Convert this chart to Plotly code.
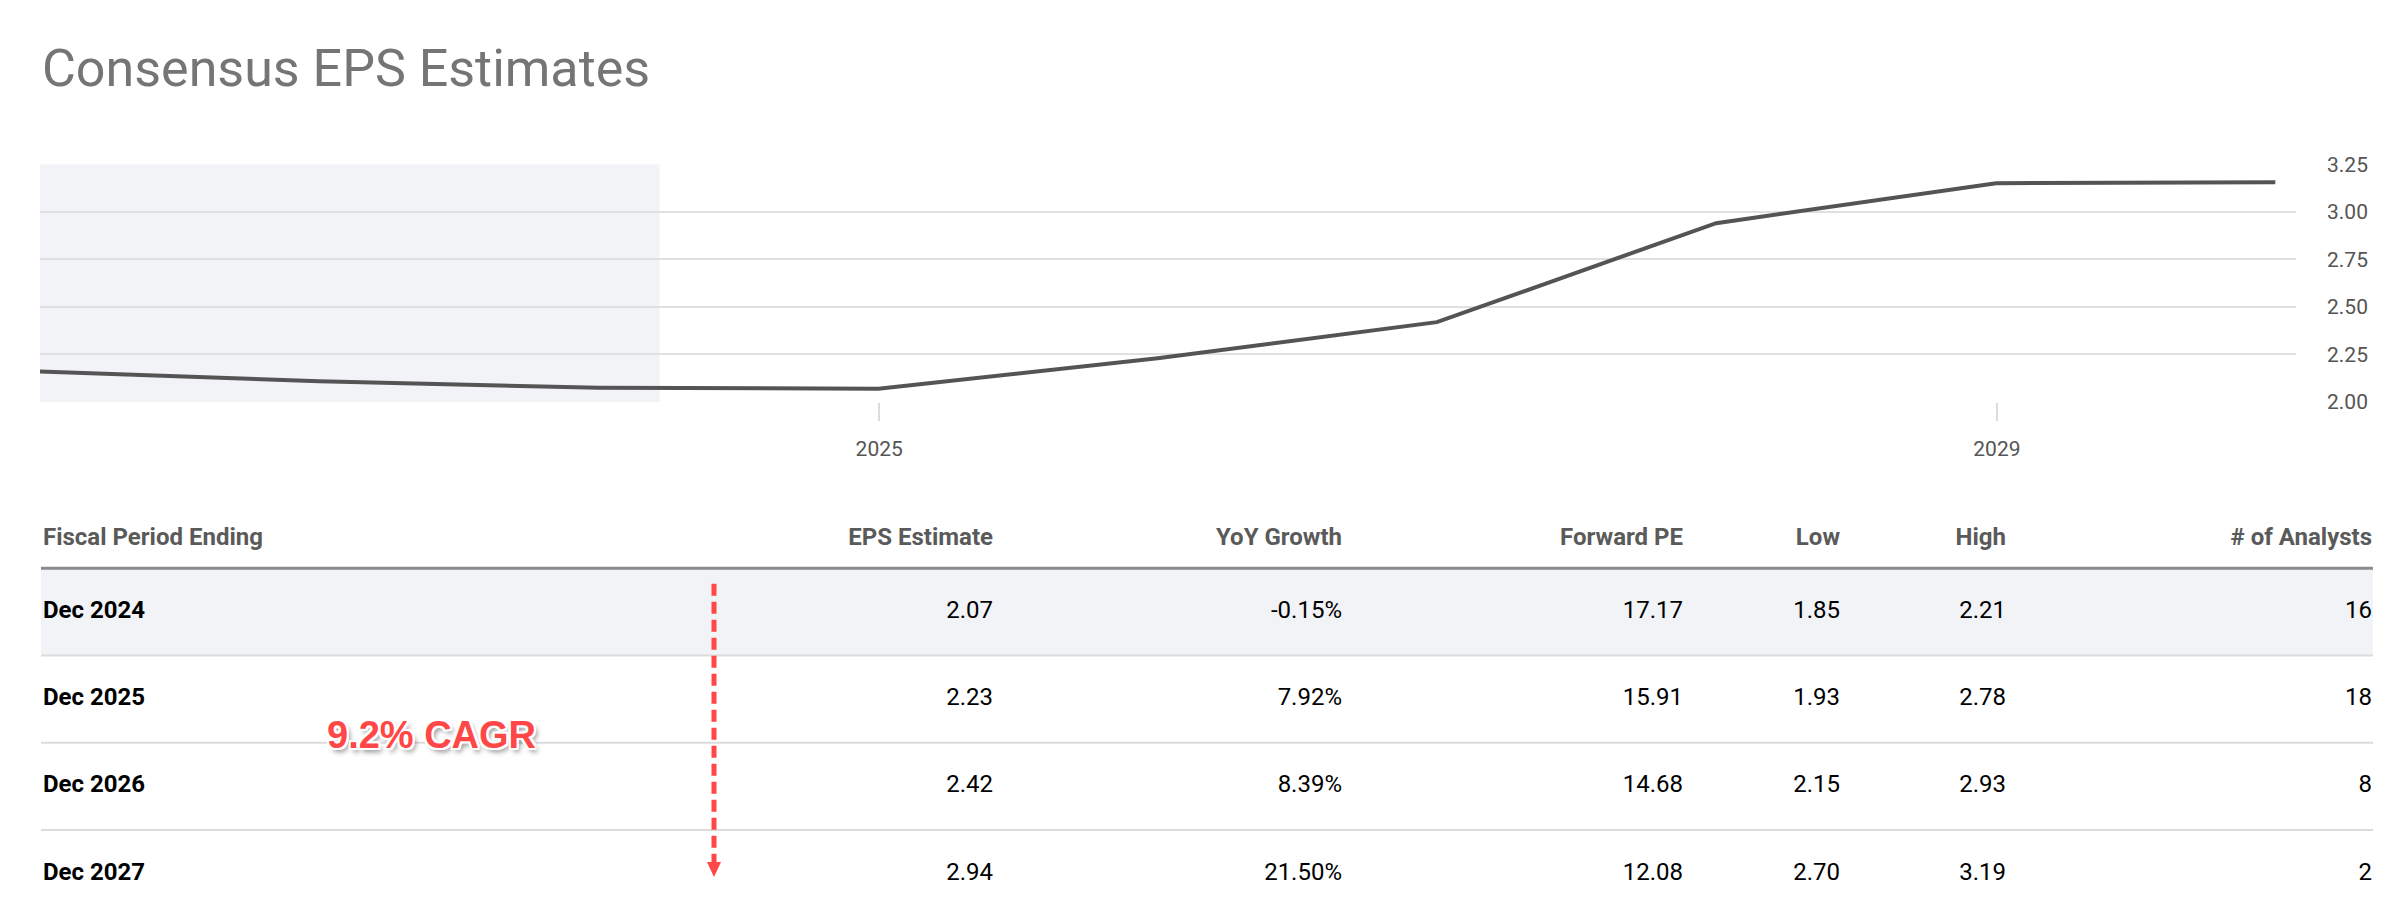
import plotly.graph_objects as go

# ---------------- data ----------------
line_dates = ["2021-12-31", "2022-12-31", "2023-12-31", "2024-12-31", "2025-12-31",
              "2026-12-31", "2027-12-31", "2028-12-31", "2029-12-31"]
line_eps = [2.16, 2.11, 2.075, 2.07, 2.23, 2.42, 2.94, 3.15, 3.155]
x_tick_vals = ["2025-01-01", "2029-01-01"]
x_tick_text = ["2025", "2029"]
y_tick_vals = [2.00, 2.25, 2.50, 2.75, 3.00, 3.25]
past_end = "2024-03-20"

headers = ["Fiscal Period Ending", "EPS Estimate", "YoY Growth", "Forward PE", "Low", "High", "# of Analysts"]
periods = ["Dec 2024", "Dec 2025", "Dec 2026", "Dec 2027"]
eps_est = ["2.07", "2.23", "2.42", "2.94"]
yoy = ["-0.15%", "7.92%", "8.39%", "21.50%"]
fwd_pe = ["17.17", "15.91", "14.68", "12.08"]
low = ["1.85", "1.93", "2.15", "2.70"]
high = ["2.21", "2.78", "2.93", "3.19"]
analysts = ["16", "18", "8", "2"]
cagr_text = "9.2% CAGR"

# ---------------- layout constants ----------------
W, H = 2398, 913
# the photographed picture shows the figure slightly inset vertically;
# target positions (in picture px) are mapped back to figure px
SHIFT_Y, SCALE_Y = 10.0, 0.976

def px_x(p):
    return p / W
def px_y(p):
    return 1 - ((p - SHIFT_Y) / SCALE_Y) / H

ROW_C0 = 611.25   # picture px centre of first body row
ROW_H = 87.5      # picture px row height
def row_of(p):
    return (p - ROW_C0) / ROW_H

T_TOP = 494
T_BOT = SHIFT_Y + SCALE_Y * H
col_x = [43, 993, 1342, 1683, 1840, 2006, 2372]
tbl_left, tbl_right = 41, 2373

fig = go.Figure()

fig.add_trace(go.Scatter(
    x=line_dates, y=line_eps, mode="lines",
    line=dict(color="#545454", width=4), hoverinfo="skip",
    xaxis="x", yaxis="y", showlegend=False))

cols = [periods, eps_est, yoy, fwd_pe, low, high, analysts]
rows_idx = list(range(len(periods)))
for ci, vals in enumerate(cols):
    first = ci == 0
    fig.add_trace(go.Scatter(
        x=[col_x[ci]] * len(vals), y=rows_idx, text=vals, mode="text",
        textposition="middle right" if first else "middle left",
        textfont=dict(family="Roboto", size=24, color="#000000",
                      weight=700 if first else 400),
        hoverinfo="skip", showlegend=False, cliponaxis=False,
        xaxis="x2", yaxis="y2"))
    fig.add_trace(go.Scatter(
        x=[col_x[ci]], y=[row_of(538)], text=[headers[ci]], mode="text",
        textposition="middle right" if first else "middle left",
        textfont=dict(family="Roboto", size=24, color="#5a5a5a", weight=700),
        hoverinfo="skip", showlegend=False, cliponaxis=False,
        xaxis="x2", yaxis="y2"))

shapes = []
shapes.append(dict(type="rect", xref="x", yref="y", x0=line_dates[0], x1=past_end,
                   y0=y_tick_vals[0], y1=y_tick_vals[-1], fillcolor="#f2f3f6",
                   line=dict(width=0), layer="below"))
shapes.append(dict(type="rect", xref="x2", yref="y2", x0=tbl_left, x1=tbl_right,
                   y0=-0.5, y1=0.5, fillcolor="#f2f3f6", line=dict(width=0), layer="below"))
for k in range(len(periods) - 1):
    shapes.append(dict(type="line", xref="x2", yref="y2", x0=tbl_left, x1=tbl_right,
                       y0=k + 0.5, y1=k + 0.5, line=dict(color="#dcdcdc", width=2), layer="below"))
shapes.append(dict(type="line", xref="x2", yref="y2", x0=tbl_left, x1=tbl_right,
                   y0=-0.5, y1=-0.5, line=dict(color="#878d8d", width=3), layer="below"))
ax_x = 714
shapes.append(dict(type="line", xref="x2", yref="y2", x0=ax_x, x1=ax_x,
                   y0=row_of(583), y1=row_of(864),
                   line=dict(color="#ff4747", width=5, dash="12px,6px")))
shapes.append(dict(type="path", xref="x2", yref="y2",
                   path=f"M {ax_x-7},{row_of(862)} L {ax_x+7},{row_of(862)} L {ax_x},{row_of(877)} Z",
                   fillcolor="#ff4747", line=dict(width=0)))

annotations = [
    dict(text="Consensus EPS Estimates", xref="paper", yref="paper",
         x=px_x(40), y=px_y(67), xanchor="left", yanchor="middle", showarrow=False,
         font=dict(family="Roboto", size=52, color="#757575")),
    dict(text=cagr_text, xref="x2", yref="y2", x=431, y=row_of(735),
         xanchor="center", yanchor="middle", showarrow=False,
         font=dict(family="Liberation Sans", size=38, color="#ff4747", weight=700,
                   shadow="-2px -2px 0 #fff, 2px -2px 0 #fff, -2px 2px 0 #fff, 2px 2px 0 #fff, "
                          "0 2px 0 #fff, 0 -2px 0 #fff, 2px 0 0 #fff, -2px 0 0 #fff, "
                          "3px 4px 5px rgba(0,0,0,0.45)")),
]

fig.update_layout(
    width=W, height=H, autosize=False,
    margin=dict(l=0, r=0, t=0, b=0),
    paper_bgcolor="white", plot_bgcolor="rgba(0,0,0,0)",
    showlegend=False,
    shapes=shapes, annotations=annotations,
    xaxis=dict(domain=[px_x(40), px_x(2296)], type="date",
               range=["2021-12-31", "2030-01-27"],
               tickvals=x_tick_vals, ticktext=x_tick_text,
               ticks="outside", ticklen=18, tickwidth=1.5, tickcolor="#dddddd",
               showgrid=False, zeroline=False, showline=False,
               tickfont=dict(family="Roboto", size=21, color="#555555"),
               ticklabelstandoff=10, fixedrange=True, anchor="y"),
    yaxis=dict(domain=[px_y(401), px_y(162.5)], range=[y_tick_vals[0], y_tick_vals[-1]],
               side="right", tickvals=y_tick_vals, tickformat=".2f",
               showgrid=True, gridcolor="#e0e0e0", gridwidth=2,
               zeroline=False, showline=False, ticks="",
               tickfont=dict(family="Roboto", size=21, color="#555555"),
               ticklabelstandoff=30, fixedrange=True, anchor="x"),
    xaxis2=dict(domain=[0, 1], range=[0, W], visible=False, fixedrange=True, anchor="y2"),
    yaxis2=dict(domain=[max(0.0, px_y(T_BOT)), px_y(T_TOP)], range=[row_of(T_BOT), row_of(T_TOP)],
                visible=False, fixedrange=True, anchor="x2"),
)

fig.write_html("out.html", config={"displayModeBar": False},
               post_script="document.body.style.margin='0';document.body.style.overflow='hidden';")
